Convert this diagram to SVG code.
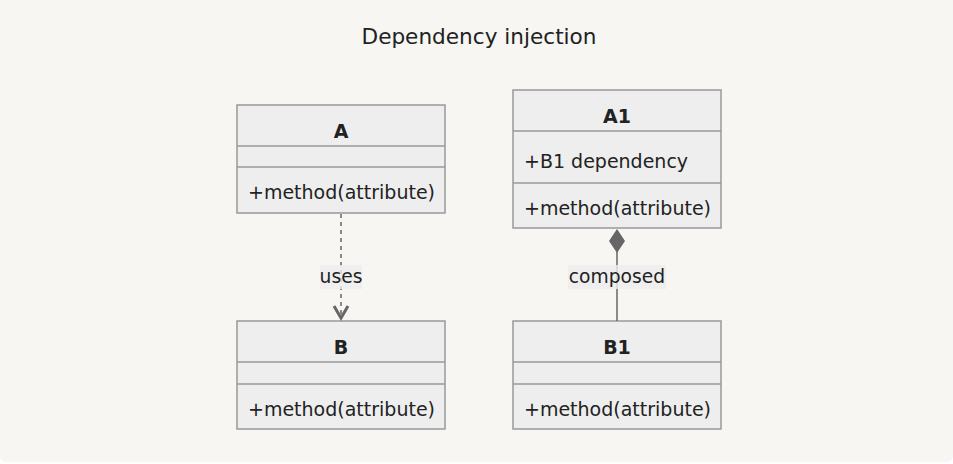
<svg xmlns="http://www.w3.org/2000/svg" width="953" height="464" viewBox="0 0 953 464">
<style>
.box{fill:#eeeeee;stroke:#999999;stroke-width:1.5}
.div{stroke:#999999;stroke-width:1.5}
.t{font-family:"DejaVu Sans",Verdana,sans-serif;fill:#222222}
.h{font-size:19px;font-weight:bold;text-anchor:middle}
.m{font-size:19px}
.lbl{font-size:18.7px;text-anchor:middle}
.edge{stroke:#666666;stroke-width:1.5;fill:none}
.lblbg{fill:#eeeeee;opacity:0.8}
</style>
<rect x="0" y="0" width="953" height="464" fill="#ffffff"/>
<rect x="0" y="-6" width="953" height="468" rx="6" fill="#f7f6f3"/>
<text class="t" x="479" y="44" text-anchor="middle" font-size="21.6">Dependency injection</text>
<g id="A">
<rect class="box" x="237" y="105" width="208" height="108"/>
<line class="div" x1="237" y1="146" x2="445" y2="146"/>
<line class="div" x1="237" y1="167" x2="445" y2="167"/>
<text class="t h" x="341" y="138">A</text>
<text class="t m" x="248" y="199">+method(attribute)</text>
</g>
<g id="A1">
<rect class="box" x="513" y="90" width="208" height="138"/>
<line class="div" x1="513" y1="131" x2="721" y2="131"/>
<line class="div" x1="513" y1="183" x2="721" y2="183"/>
<text class="t h" x="617" y="123">A1</text>
<text class="t m" x="524" y="168">+B1 dependency</text>
<text class="t m" x="524" y="215">+method(attribute)</text>
</g>
<g id="B">
<rect class="box" x="237" y="321" width="208" height="108"/>
<line class="div" x1="237" y1="362" x2="445" y2="362"/>
<line class="div" x1="237" y1="384" x2="445" y2="384"/>
<text class="t h" x="341" y="354">B</text>
<text class="t m" x="248" y="416">+method(attribute)</text>
</g>
<g id="B1">
<rect class="box" x="513" y="321" width="208" height="108"/>
<line class="div" x1="513" y1="362" x2="721" y2="362"/>
<line class="div" x1="513" y1="384" x2="721" y2="384"/>
<text class="t h" x="617" y="354">B1</text>
<text class="t m" x="524" y="416">+method(attribute)</text>
</g>
<g id="connectors">
<line class="edge" x1="341" y1="214" x2="341" y2="318" stroke-dasharray="4,4"/>
<polyline points="334,306 341,318 348,306" fill="none" stroke="#666666" stroke-width="3"/>
<line class="edge" x1="617" y1="252" x2="617" y2="321"/>
<polygon points="617,229 625,241 617,253 609,241" fill="#666666"/>
<rect class="lblbg" x="320" y="265" width="42" height="24"/>
<text class="t lbl" x="341" y="283">uses</text>
<rect class="lblbg" x="568" y="265" width="98" height="24"/>
<text class="t lbl" x="617" y="283">composed</text>
</g>
</svg>
